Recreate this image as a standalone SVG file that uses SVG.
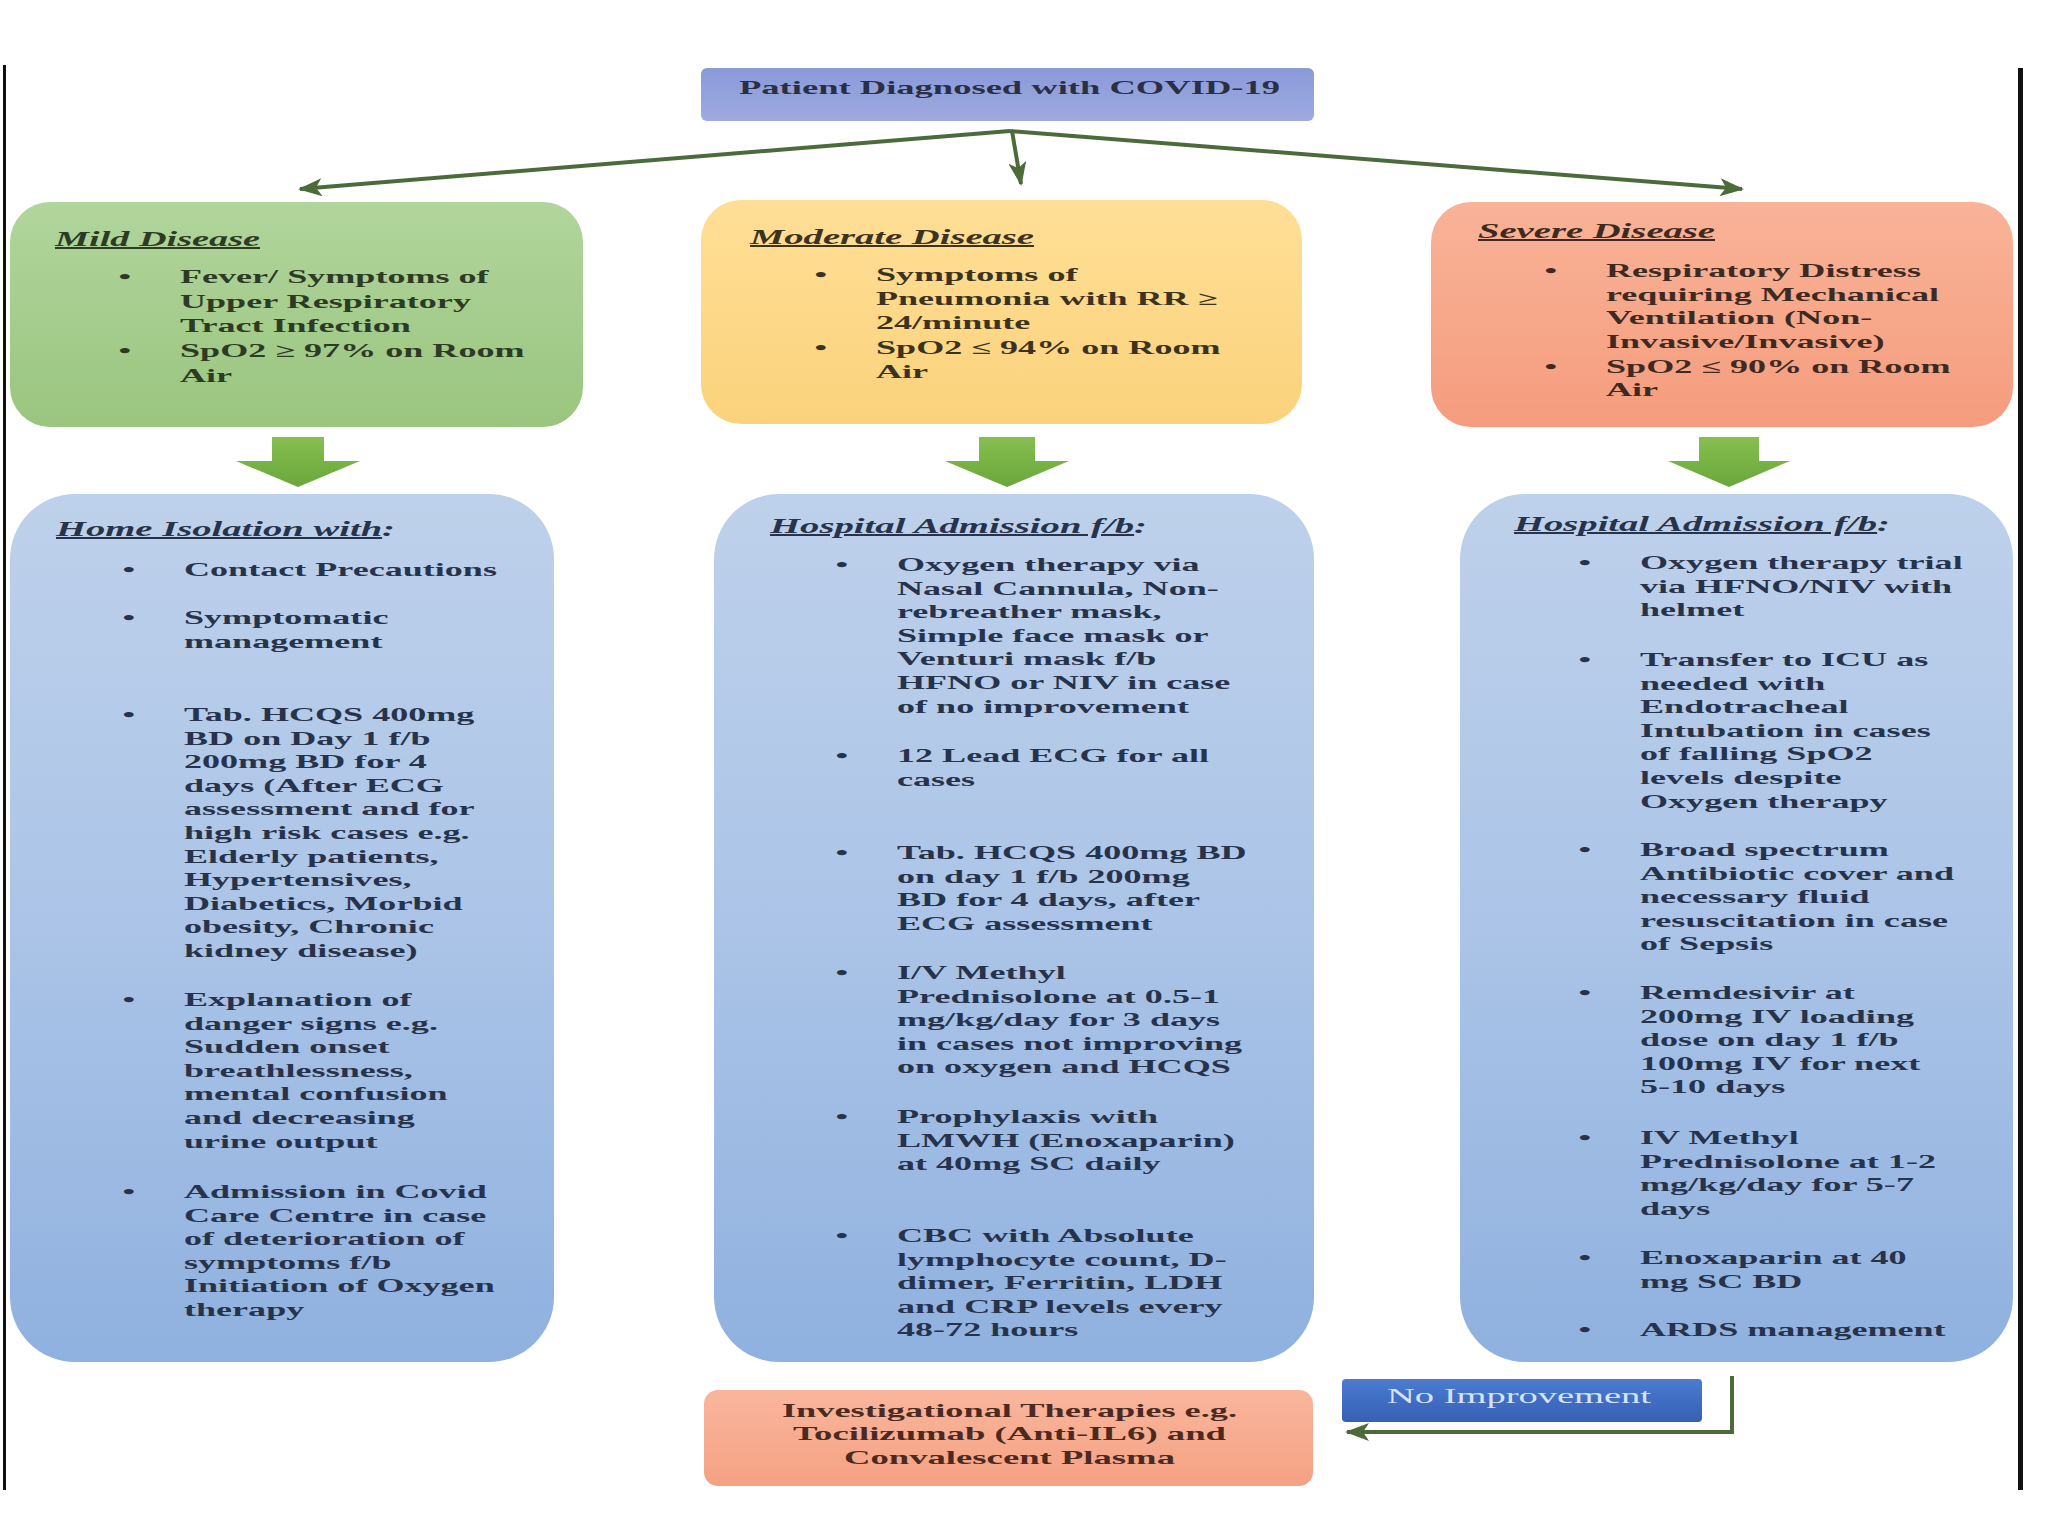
<svg xmlns="http://www.w3.org/2000/svg" width="2048" height="1536" viewBox="0 0 2048 1536">
<style>
.body{font-family:"Liberation Serif","Times New Roman",serif;font-size:19px;font-weight:bold}
.hdr{font-family:"Liberation Serif","Times New Roman",serif;font-size:20px;font-weight:bold;font-style:italic;fill:#1e2230}
.u{text-decoration:underline}
.conn{fill:none;stroke:#4b6b3b;stroke-width:4}
.blk{fill:url(#gArrow)}
.cg text{fill:#2d3b25}
.cy text{fill:#3b3322}
.cs text{fill:#3d2a22}
.cb text{fill:#27334a}
</style>
<defs>
<linearGradient id="gTop" x1="0" y1="0" x2="0" y2="1"><stop offset="0" stop-color="#8a9ad9"/><stop offset="1" stop-color="#9eaadf"/></linearGradient>
<linearGradient id="gMild" x1="0" y1="0" x2="0" y2="1"><stop offset="0" stop-color="#b1d59c"/><stop offset="1" stop-color="#9ac57f"/></linearGradient>
<linearGradient id="gMod" x1="0" y1="0" x2="0" y2="1"><stop offset="0" stop-color="#ffdf96"/><stop offset="1" stop-color="#fbd27c"/></linearGradient>
<linearGradient id="gSev" x1="0" y1="0" x2="0" y2="1"><stop offset="0" stop-color="#f9b398"/><stop offset="1" stop-color="#f59c7d"/></linearGradient>
<linearGradient id="gBlue" x1="0" y1="0" x2="0" y2="1"><stop offset="0" stop-color="#bed1eb"/><stop offset="0.5" stop-color="#abc4e7"/><stop offset="1" stop-color="#8fb1df"/></linearGradient>
<linearGradient id="gInv" x1="0" y1="0" x2="0" y2="1"><stop offset="0" stop-color="#f9b69c"/><stop offset="1" stop-color="#f5a183"/></linearGradient>
<linearGradient id="gNo" x1="0" y1="0" x2="0" y2="1"><stop offset="0" stop-color="#4b7bd0"/><stop offset="1" stop-color="#3660b4"/></linearGradient>
<linearGradient id="gArrow" x1="0" y1="0" x2="0" y2="1"><stop offset="0" stop-color="#86bf50"/><stop offset="1" stop-color="#6aa63c"/></linearGradient>
<marker id="ah" markerUnits="userSpaceOnUse" markerWidth="24" markerHeight="18" refX="22" refY="9" orient="auto"><path d="M0,0 L24,9 L0,18 L6,9 Z" fill="#4b6b3b"/></marker>
</defs>
<rect width="2048" height="1536" fill="#ffffff"/>
<rect x="3" y="65" width="3" height="1425" fill="#111"/>
<rect x="2018" y="68" width="5" height="1422" fill="#111"/>

<g id="connectors">
<path class="conn" d="M1010,131 L300,189" marker-end="url(#ah)"/>
<path class="conn" d="M1012,131 L1021,184" marker-end="url(#ah)"/>
<path class="conn" d="M1010,131 L1742,189" marker-end="url(#ah)"/>
<path class="conn" d="M1732,1376 L1732,1432 L1347,1432" marker-end="url(#ah)"/>
<path class="blk" d="M272,437 H324 V461 H360 L298,487 L236,461 H272 Z"/>
<path class="blk" d="M979,437 H1035 V461 H1069 L1007,487 L945,461 H979 Z"/>
<path class="blk" d="M1699,437 H1759 V461 H1790 L1729,487 L1668,461 H1699 Z"/>
</g>

<g id="n-start">
<rect x="701" y="68" width="613" height="53" rx="6" fill="url(#gTop)"/>
<text class="body" x="739" y="94" textLength="541" lengthAdjust="spacingAndGlyphs" font-size="21" fill="#2a2f45">Patient Diagnosed with COVID-19</text>
</g>

<g id="n-mild" class="cg">
<rect x="10" y="202" width="573" height="225" rx="40" fill="url(#gMild)"/>
<text class="hdr" x="55" y="246" textLength="205" lengthAdjust="spacingAndGlyphs"><tspan class="u">Mild Disease</tspan></text>
<g class="body" transform="translate(180 0) scale(1.9 1)">
<text x="-29" y="283" text-anchor="middle">•</text>
<text><tspan x="0" y="283">Fever/ Symptoms of</tspan><tspan x="0" y="307.7">Upper Respiratory</tspan><tspan x="0" y="332.4">Tract Infection</tspan></text>
<text x="-29" y="357" text-anchor="middle">•</text>
<text><tspan x="0" y="357">SpO2 ≥ 97% on Room</tspan><tspan x="0" y="381.8">Air</tspan></text>
</g>
</g>

<g id="n-moderate" class="cy">
<rect x="701" y="200" width="601" height="224" rx="40" fill="url(#gMod)"/>
<text class="hdr" x="750" y="244" textLength="284" lengthAdjust="spacingAndGlyphs"><tspan class="u">Moderate Disease</tspan></text>
<g class="body" transform="translate(876 0) scale(1.9 1)">
<text x="-29" y="281" text-anchor="middle">•</text>
<text><tspan x="0" y="281">Symptoms of</tspan><tspan x="0" y="305">Pneumonia with RR ≥</tspan><tspan x="0" y="329">24/minute</tspan></text>
<text x="-29" y="354" text-anchor="middle">•</text>
<text><tspan x="0" y="354">SpO2 ≤ 94% on Room</tspan><tspan x="0" y="378">Air</tspan></text>
</g>
</g>

<g id="n-severe" class="cs">
<rect x="1431" y="202" width="582" height="225" rx="40" fill="url(#gSev)"/>
<text class="hdr" x="1478" y="238" textLength="237" lengthAdjust="spacingAndGlyphs"><tspan class="u">Severe Disease</tspan></text>
<g class="body" transform="translate(1606 0) scale(1.9 1)">
<text x="-29" y="277" text-anchor="middle">•</text>
<text><tspan x="0" y="277">Respiratory Distress</tspan><tspan x="0" y="301">requiring Mechanical</tspan><tspan x="0" y="324">Ventilation (Non-</tspan><tspan x="0" y="348">Invasive/Invasive)</tspan></text>
<text x="-29" y="373" text-anchor="middle">•</text>
<text><tspan x="0" y="373">SpO2 ≤ 90% on Room</tspan><tspan x="0" y="396">Air</tspan></text>
</g>
</g>

<g id="n-home" class="cb">
<rect x="10" y="494" width="544" height="868" rx="65" fill="url(#gBlue)"/>
<text class="hdr" x="56" y="536" textLength="339" lengthAdjust="spacingAndGlyphs"><tspan class="u">Home Isolation with</tspan>:</text>
<g class="body" transform="translate(184 0) scale(1.9 1)">
<text x="-29" y="576" text-anchor="middle">•</text>
<text><tspan x="0" y="576">Contact Precautions</tspan></text>
<text x="-29" y="624" text-anchor="middle">•</text>
<text><tspan x="0" y="624">Symptomatic</tspan><tspan x="0" y="648">management</tspan></text>
<text x="-29" y="721" text-anchor="middle">•</text>
<text><tspan x="0" y="721">Tab. HCQS 400mg</tspan><tspan x="0" y="744.6">BD on Day 1 f/b</tspan><tspan x="0" y="768.2">200mg BD for 4</tspan><tspan x="0" y="791.8">days (After ECG</tspan><tspan x="0" y="815.4">assessment and for</tspan><tspan x="0" y="839">high risk cases e.g.</tspan><tspan x="0" y="862.6">Elderly patients,</tspan><tspan x="0" y="886.2">Hypertensives,</tspan><tspan x="0" y="909.8">Diabetics, Morbid</tspan><tspan x="0" y="933.4">obesity, Chronic</tspan><tspan x="0" y="957">kidney disease)</tspan></text>
<text x="-29" y="1006" text-anchor="middle">•</text>
<text><tspan x="0" y="1006">Explanation of</tspan><tspan x="0" y="1029.6">danger signs e.g.</tspan><tspan x="0" y="1053.2">Sudden onset</tspan><tspan x="0" y="1076.8">breathlessness,</tspan><tspan x="0" y="1100.4">mental confusion</tspan><tspan x="0" y="1124">and decreasing</tspan><tspan x="0" y="1147.6">urine output</tspan></text>
<text x="-29" y="1198" text-anchor="middle">•</text>
<text><tspan x="0" y="1198">Admission in Covid</tspan><tspan x="0" y="1221.6">Care Centre in case</tspan><tspan x="0" y="1245.2">of deterioration of</tspan><tspan x="0" y="1268.8">symptoms f/b</tspan><tspan x="0" y="1292.4">Initiation of Oxygen</tspan><tspan x="0" y="1316">therapy</tspan></text>
</g>
</g>

<g id="n-hosp-moderate" class="cb">
<rect x="714" y="494" width="600" height="868" rx="65" fill="url(#gBlue)"/>
<text class="hdr" x="770" y="533" textLength="377" lengthAdjust="spacingAndGlyphs"><tspan class="u">Hospital Admission f/b</tspan>:</text>
<g class="body" transform="translate(897 0) scale(1.9 1)">
<text x="-29" y="571" text-anchor="middle">•</text>
<text><tspan x="0" y="571">Oxygen therapy via</tspan><tspan x="0" y="594.6">Nasal Cannula, Non-</tspan><tspan x="0" y="618.2">rebreather mask,</tspan><tspan x="0" y="641.8">Simple face mask or</tspan><tspan x="0" y="665.4">Venturi mask f/b</tspan><tspan x="0" y="689">HFNO or NIV in case</tspan><tspan x="0" y="712.6">of no improvement</tspan></text>
<text x="-29" y="762" text-anchor="middle">•</text>
<text><tspan x="0" y="762">12 Lead ECG for all</tspan><tspan x="0" y="785.6">cases</tspan></text>
<text x="-29" y="859" text-anchor="middle">•</text>
<text><tspan x="0" y="859">Tab. HCQS 400mg BD</tspan><tspan x="0" y="882.6">on day 1 f/b 200mg</tspan><tspan x="0" y="906.2">BD for 4 days, after</tspan><tspan x="0" y="929.8">ECG assessment</tspan></text>
<text x="-29" y="979" text-anchor="middle">•</text>
<text><tspan x="0" y="979">I/V Methyl</tspan><tspan x="0" y="1002.6">Prednisolone at 0.5-1</tspan><tspan x="0" y="1026.2">mg/kg/day for 3 days</tspan><tspan x="0" y="1049.8">in cases not improving</tspan><tspan x="0" y="1073.4">on oxygen and HCQS</tspan></text>
<text x="-29" y="1123" text-anchor="middle">•</text>
<text><tspan x="0" y="1123">Prophylaxis with</tspan><tspan x="0" y="1146.6">LMWH (Enoxaparin)</tspan><tspan x="0" y="1170.2">at 40mg SC daily</tspan></text>
<text x="-29" y="1242" text-anchor="middle">•</text>
<text><tspan x="0" y="1242">CBC with Absolute</tspan><tspan x="0" y="1265.6">lymphocyte count, D-</tspan><tspan x="0" y="1289.2">dimer, Ferritin, LDH</tspan><tspan x="0" y="1312.8">and CRP levels every</tspan><tspan x="0" y="1336.4">48-72 hours</tspan></text>
</g>
</g>

<g id="n-hosp-severe" class="cb">
<rect x="1460" y="494" width="553" height="868" rx="65" fill="url(#gBlue)"/>
<text class="hdr" x="1514" y="531" textLength="376" lengthAdjust="spacingAndGlyphs"><tspan class="u">Hospital Admission f/b</tspan>:</text>
<g class="body" transform="translate(1640 0) scale(1.9 1)">
<text x="-29" y="569" text-anchor="middle">•</text>
<text><tspan x="0" y="569">Oxygen therapy trial</tspan><tspan x="0" y="592.6">via HFNO/NIV with</tspan><tspan x="0" y="616.2">helmet</tspan></text>
<text x="-29" y="666" text-anchor="middle">•</text>
<text><tspan x="0" y="666">Transfer to ICU as</tspan><tspan x="0" y="689.6">needed with</tspan><tspan x="0" y="713.2">Endotracheal</tspan><tspan x="0" y="736.8">Intubation in cases</tspan><tspan x="0" y="760.4">of falling SpO2</tspan><tspan x="0" y="784">levels despite</tspan><tspan x="0" y="807.6">Oxygen therapy</tspan></text>
<text x="-29" y="856" text-anchor="middle">•</text>
<text><tspan x="0" y="856">Broad spectrum</tspan><tspan x="0" y="879.6">Antibiotic cover and</tspan><tspan x="0" y="903.2">necessary fluid</tspan><tspan x="0" y="926.8">resuscitation in case</tspan><tspan x="0" y="950.4">of Sepsis</tspan></text>
<text x="-29" y="999" text-anchor="middle">•</text>
<text><tspan x="0" y="999">Remdesivir at</tspan><tspan x="0" y="1022.6">200mg IV loading</tspan><tspan x="0" y="1046.2">dose on day 1 f/b</tspan><tspan x="0" y="1069.8">100mg IV for next</tspan><tspan x="0" y="1093.4">5-10 days</tspan></text>
<text x="-29" y="1144" text-anchor="middle">•</text>
<text><tspan x="0" y="1144">IV Methyl</tspan><tspan x="0" y="1167.6">Prednisolone at 1-2</tspan><tspan x="0" y="1191.2">mg/kg/day for 5-7</tspan><tspan x="0" y="1214.8">days</tspan></text>
<text x="-29" y="1264" text-anchor="middle">•</text>
<text><tspan x="0" y="1264">Enoxaparin at 40</tspan><tspan x="0" y="1287.6">mg SC BD</tspan></text>
<text x="-29" y="1336" text-anchor="middle">•</text>
<text><tspan x="0" y="1336">ARDS management</tspan></text>
</g>
</g>

<g id="n-investigational">
<rect x="704" y="1390" width="609" height="96" rx="14" fill="url(#gInv)"/>
<g class="body" fill="#4a2a22" font-size="20">
<text x="782" y="1417" textLength="455" lengthAdjust="spacingAndGlyphs">Investigational Therapies e.g.</text>
<text x="793" y="1440" textLength="433" lengthAdjust="spacingAndGlyphs">Tocilizumab (Anti-IL6) and</text>
<text x="844" y="1464" textLength="331" lengthAdjust="spacingAndGlyphs">Convalescent Plasma</text>
</g>
</g>

<g id="n-no-improvement">
<rect x="1342" y="1379" width="360" height="43" rx="4" fill="url(#gNo)"/>
<text x="1387" y="1403" textLength="264" lengthAdjust="spacingAndGlyphs" font-family="Liberation Serif, serif" font-size="20" fill="#d6e3f6">No Improvement</text>
</g>
</svg>
